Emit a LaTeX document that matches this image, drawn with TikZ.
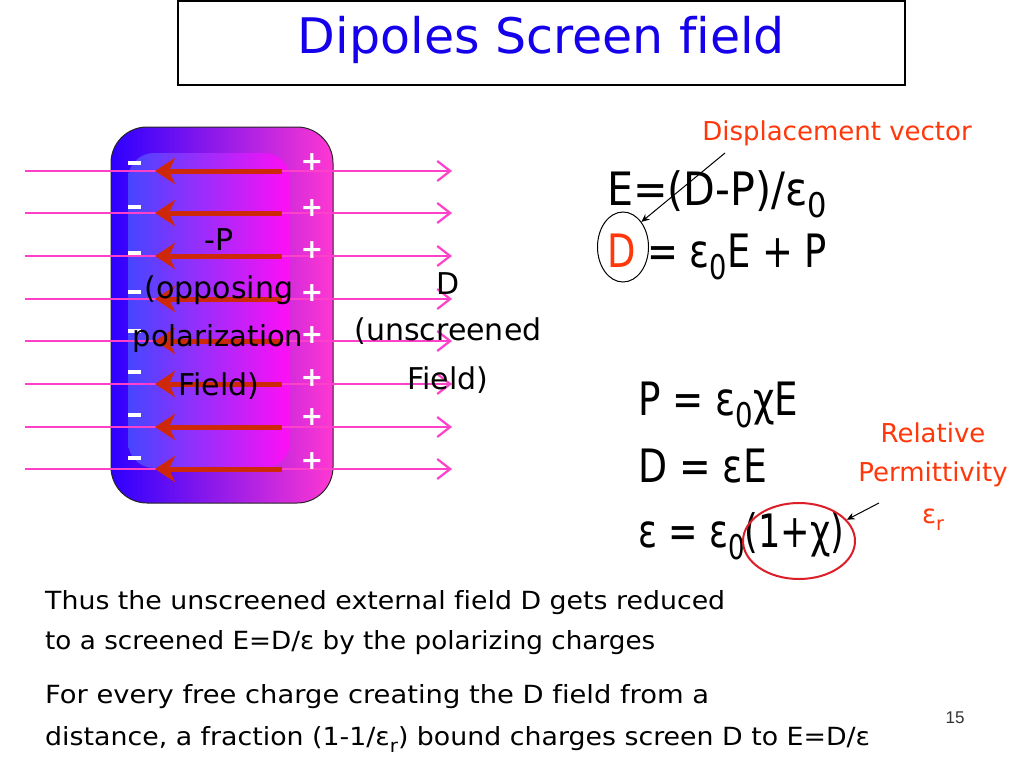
\documentclass[tikz,border=0pt]{standalone}
\usepackage{fontspec}
\usepackage{graphicx}
\setmainfont{DejaVu Sans}[Ligatures=NoCommon]
\newfontfamily\numfont{Liberation Sans}
\usetikzlibrary{arrows.meta,shapes.geometric}
\definecolor{titleblue}{RGB}{20,0,235}
\definecolor{fieldpink}{RGB}{255,64,200}
\definecolor{parrow}{RGB}{205,40,10}
\definecolor{labred}{RGB}{255,55,10}
\definecolor{circred}{RGB}{220,30,40}
\definecolor{slabblue}{RGB}{45,0,255}
\definecolor{slabmid}{RGB}{190,30,235}
\definecolor{slabpink}{RGB}{255,55,210}
\definecolor{innerblue}{RGB}{70,70,255}
\definecolor{innermid}{RGB}{180,40,255}
\definecolor{innermag}{RGB}{255,15,245}
\newcommand{\fsz}[1]{\fontsize{#1}{#1}\selectfont}
\newcommand{\lsub}[1]{\raisebox{-0.28em}{\scalebox{0.74}{#1}}}
\newcommand{\fitw}[2]{\resizebox{#1}{\height}{#2}}
\begin{document}
\begin{tikzpicture}[x=1pt,y=-1pt,
  field/.style={draw=fieldpink,line width=2.6pt,-{Straight Barb[length=13pt,width=20pt,line width=2.2pt]}},
  polar/.style={draw=parrow,line width=5pt,-{Stealth[length=20pt,width=26pt,inset=6pt]}},
  minus/.style={fill=white,minimum width=13pt,minimum height=4pt,inner sep=0pt},
  plus/.style={text=white,font=\fsz{27}\bfseries,inner sep=0pt},
  slabtxt/.style={font=\fsz{30},align=center,inner sep=0pt},
  eq/.style={font=\fsz{46},anchor=base west,inner sep=0pt},
  lab/.style={font=\fsz{26},text=labred,inner sep=0pt},
  body/.style={font=\fsz{25},anchor=base west,inner sep=0pt},
  thinarrow/.style={draw=black,line width=1pt,-{Stealth[length=8pt,width=7pt]}}]
\useasboundingbox (0,0) rectangle (1024,768);
\fill[white] (0,0) rectangle (1024,768);
% title
\node[draw=black,line width=1.8pt,minimum width=727pt,minimum height=84pt,inner sep=0pt] (titlebox) at (541.5,43) {};
\node[font=\fsz{49},text=titleblue] (title) at (541.5,40) {Dipoles Screen field};
% slab
\shadedraw[draw=black!85,line width=1pt,left color=slabblue,middle color=slabmid,right color=slabpink,rounded corners=36pt] (111,127) rectangle (333,503);
\shade[left color=innerblue,middle color=innermid,right color=innermag,rounded corners=26pt] (128,153) rectangle (290,468);
% field lines and polarization arrows
\foreach \i/\y in {1/171,2/213,3/256,4/299,5/341,6/384,7/427,8/469}{
  \coordinate (fl\i) at (25,\y);
  \coordinate (fr\i) at (452,\y);
  \coordinate (pa\i) at (282,\y);
  \coordinate (pb\i) at (155,\y);
  \draw[field] (fl\i) -- (fr\i);
  \draw[polar] (pa\i) -- (pb\i);
}
% charges
\foreach \i/\ym/\yp in {1/163/162,2/207/208,3/253/250,4/292/293,5/331/335,6/372/378,7/415/417,8/458/461}{
  \node[minus] (m\i) at (134,\ym) {};
  \node[plus] (p\i) at (312,\yp) {+};
}
% slab labels
\node[slabtxt] (plab1) at (219,240) {-P};
\node[slabtxt] (plab2) at (219,290) {(opposing};
\node[slabtxt,font=\fsz{29}] (plab3) at (218,338) {polarization};
\node[slabtxt] (plab4) at (219,386) {Field)};
\node[slabtxt] (dlab1) at (448,284) {D};
\node[slabtxt] (dlab2) at (448,331) {(unscreened};
\node[slabtxt] (dlab3) at (448,380) {Field)};
% equations
\node[lab] (disp) at (837,133) {Displacement vector};
\node[eq] (eq1) at (607,205) {\fitw{220pt}{E=(D-P)/ε\lsub{0}}};
\node[eq] (eq2) at (607,267) {\fitw{220pt}{\textcolor{labred}{D} = ε\lsub{0}E + P}};
\node[draw=black,line width=1pt,ellipse,minimum width=51pt,minimum height=70pt,inner sep=0pt] (circD) at (623,247) {};
\coordinate (dvstart) at (725,153);
\draw[thinarrow] (dvstart) -- (circD.north east);
\node[eq] (eq3) at (638,415) {\fitw{160pt}{P = ε\lsub{0}χE}};
\node[eq] (eq4) at (638,482) {\fitw{129pt}{D = εE}};
\node[eq] (eq5) at (638,547) {\fitw{206pt}{ε = ε\lsub{0}(1+χ)}};
\node[draw=circred,line width=2pt,ellipse,minimum width=112pt,minimum height=76pt,inner sep=0pt] (circChi) at (799,541) {};
\node[lab] (rel1) at (933,433) {Relative};
\node[lab] (rel2) at (933,474) {Permittivity};
\node[lab] (rel3) at (933,520) {ε\lsub{r}};
\coordinate (rpstart) at (879,503);
\draw[thinarrow] (rpstart) -- (circChi.24);
% body text
\node[body] (t1) at (45,609) {\fitw{680pt}{Thus the unscreened external field D gets reduced}};
\node[body] (t2) at (45,649) {\fitw{610pt}{to a screened E=D/ε by the polarizing charges}};
\node[body] (t3) at (45,703) {\fitw{664pt}{For every free charge creating the D field from a}};
\node[body] (t4) at (45,745) {\fitw{825pt}{distance, a fraction (1-1/ε\lsub{r}) bound charges screen D to E=D/ε}};
\node[font=\fsz{17}\numfont,text=black!80] (pnum) at (955,718) {15};
\end{tikzpicture}
\end{document}
